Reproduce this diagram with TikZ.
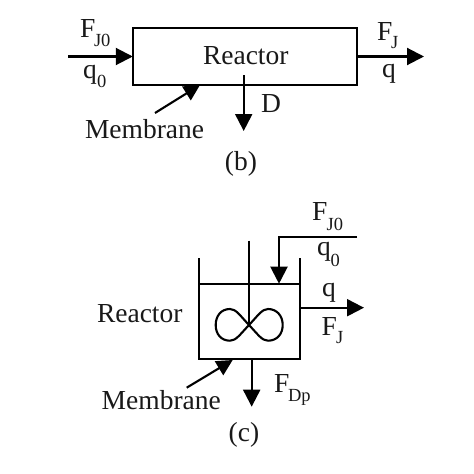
\documentclass[tikz,border=0pt]{standalone}
\usepackage{fontspec}
\setmainfont{Liberation Serif}
\usetikzlibrary{arrows.meta,calc}
\tikzset{
  lbl/.style={anchor=base west,inner sep=0pt,outer sep=0pt,font=\fontsize{27.5}{30}\selectfont,text=black!90},
  sublbl/.style={anchor=base west,inner sep=0pt,outer sep=0pt,font=\fontsize{18.5}{20}\selectfont,text=black!90},
  captext/.style={anchor=base,inner sep=0pt,outer sep=0pt,font=\fontsize{27.5}{30}\selectfont,text=black!90},
  vessel/.style={draw,inner sep=0pt,outer sep=0pt},
  ln/.style={line width=2.1pt},
  flow/.style={line width=2.1pt,-{Triangle[length=17pt,width=17pt]}},
  leadarrow/.style={line width=2.1pt,-{Triangle[length=16pt,width=16pt]}}
}
\begin{document}
\begin{tikzpicture}[x=1pt,y=-1pt]
\useasboundingbox (0,0) rectangle (474,474);
\fill[white] (0,0) rectangle (474,474);
% --- (b) ---
\node[vessel,ln,minimum width=224.5pt,minimum height=57pt] (box) at (245,56.5) {};
\coordinate (bin) at (68,56.5);
\coordinate (bout) at (424,56.5);
\coordinate (dstart) at (243.7,75);
\coordinate (dend) at (243.7,131);
\coordinate (mstart) at (155,113);
\coordinate (mtip) at (200,85);
\draw[flow] (bin) -- (box.west);
\draw[flow] (box.east) -- (bout);
\draw[flow] (dstart) -- (dend);
\draw[leadarrow] (mstart) -- (mtip);
\node[lbl] (bF0) at (80,37) {F};
\node[sublbl] (bJ0) at (94,46) {J0};
\node[lbl] (bq0) at (83,78) {q};
\node[sublbl] (b0) at (97,87) {0};
\node[lbl] (bR) at (203,64) {Reactor};
\node[lbl] (bF) at (377,40) {F};
\node[sublbl] (bJ) at (391,48) {J};
\node[lbl] (bq) at (382,77) {q};
\node[lbl] (bD) at (261,112) {D};
\node[lbl] (bM) at (85,138) {Membrane};
\node[captext] (bcap) at (241,170) {(b)};
% --- (c) ---
\node[vessel,ln,minimum width=101pt,minimum height=75.3pt] (tank) at (249.2,321.3) {};
\coordinate (wl) at (198.7,257.7);
\coordinate (wr) at (299.7,257.7);
\coordinate (shtop) at (249,240.7);
\coordinate (hub) at (249,325);
\coordinate (feed) at (357,237);
\coordinate (feedc) at (279,237);
\coordinate (feedt) at (279,283.7);
\coordinate (cout) at (364,307.7);
\coordinate (cdstart) at (251.7,358);
\coordinate (cdend) at (251.7,406.7);
\coordinate (cmstart) at (186.7,387.7);
\coordinate (cmtip) at (232.7,360);
\draw[ln] (tank.north west) -- (wl);
\draw[ln] (tank.north east) -- (wr);
\draw[ln] (shtop) -- (hub);
\draw[ln,line join=round] (hub)
  .. controls (258,315.5) and (262,309) .. (268,309)
  .. controls (277,309) and (282.7,316) .. (282.7,325)
  .. controls (282.7,334) and (277,340.7) .. (268,340.7)
  .. controls (262,340.7) and (258,334.5) .. (hub)
  .. controls (240,315.5) and (236,309) .. (230,309)
  .. controls (221,309) and (215.7,316) .. (215.7,325)
  .. controls (215.7,334) and (221,340.7) .. (230,340.7)
  .. controls (236,340.7) and (240,334.5) .. (hub);
\draw[flow] (feed) -- (feedc) -- (feedt);
\draw[flow] (tank.east |- cout) -- (cout);
\draw[flow] (cdstart) -- (cdend);
\draw[leadarrow] (cmstart) -- (cmtip);
\node[lbl] (cF0) at (312,220.7) {F};
\node[sublbl] (cJ0) at (326.7,230) {J0};
\node[lbl] (cq0) at (317,255.7) {q};
\node[sublbl] (c0) at (330.5,266) {0};
\node[lbl] (cq) at (322,296) {q};
\node[lbl] (cF) at (321.7,335) {F};
\node[sublbl] (cJ) at (336,343) {J};
\node[lbl] (cFD) at (274,392) {F};
\node[sublbl] (cDp) at (288,401.7) {Dp};
\node[lbl] (cR) at (97,322) {Reactor};
\node[lbl] (cM) at (101.7,409) {Membrane};
\node[captext] (ccap) at (244,441.7) {(c)};
\end{tikzpicture}
\end{document}
